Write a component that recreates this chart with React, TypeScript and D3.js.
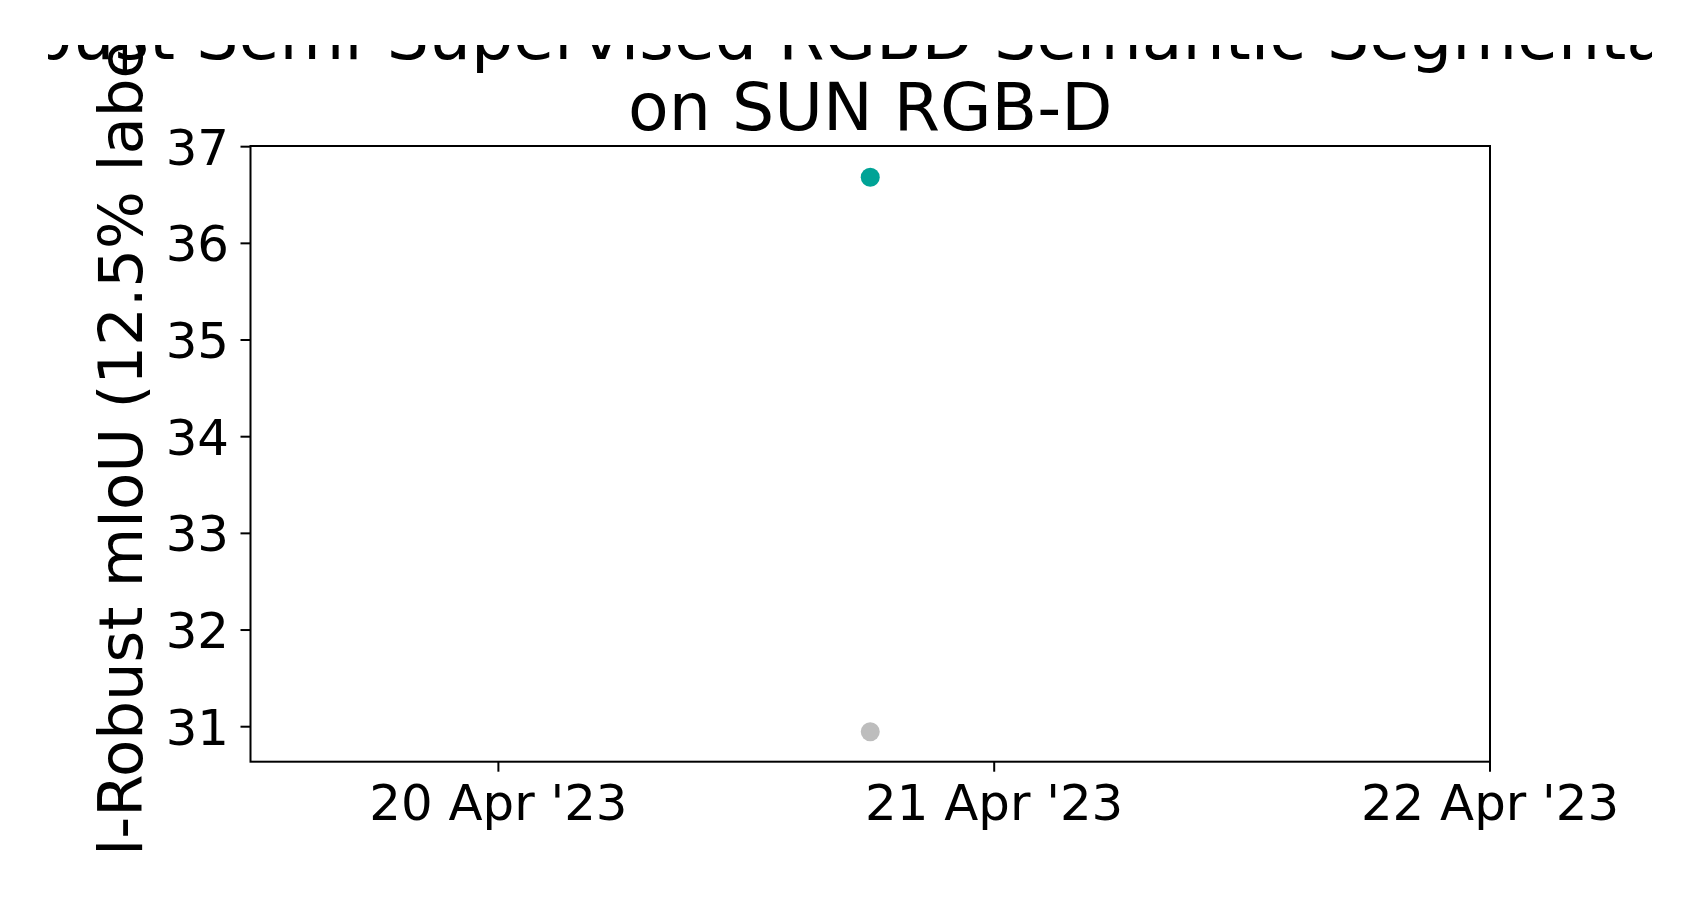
import React from "react";
import * as d3 from "d3";

// ---- data ----
const titleLines = ["Robust Semi-Supervised RGBD Semantic Segmentation", "on SUN RGB-D"];
const yLabel = "l-Robust mIoU (12.5% labels)";
const pointDates = ["2023-04-20T18:00:00Z", "2023-04-20T18:00:00Z"];
const pointValues = [36.683, 30.948];
const pointColors = ["#00a396", "#bdbdbd"];
const xDomainDates = ["2023-04-19T12:00:00Z", "2023-04-22T00:00:00Z"];
const xTickDates = ["2023-04-20T00:00:00Z", "2023-04-21T00:00:00Z", "2023-04-22T00:00:00Z"];
const yDomainValues = [30.638, 37.007];
const yTickValues = [31, 32, 33, 34, 35, 36, 37];

const W = 1700;
const H = 900;
const left = 250.5;
const right = 1490;
const top = 146;
const bottom = 761.7;
const FONT = "'DejaVu Sans', sans-serif";

export default function App() {
  const x = d3
    .scaleUtc()
    .domain(xDomainDates.map((d) => new Date(d)))
    .range([left, right]);
  const y = d3.scaleLinear().domain(yDomainValues).range([bottom, top]);
  const fmt = d3.utcFormat("%d %b '%y");
  const cx = (left + right) / 2;

  return (
    <div style={{ position: "absolute", left: 0, top: 0, width: W, height: H, background: "#fff" }}>
      <svg width={W} height={H} viewBox={`0 0 ${W} ${H}`} style={{ display: "block" }}>
        <defs>
          <clipPath id="figclip">
            <rect x={48} y={45} width={1604} height={810} />
          </clipPath>
        </defs>
        <rect x={0} y={0} width={W} height={H} fill="#fff" />
        <g clipPath="url(#figclip)" fontFamily={FONT}>
          {pointValues.map((v, i) => (
            <circle key={i} cx={x(new Date(pointDates[i]))} cy={y(v)} r={9.5} fill={pointColors[i]} />
          ))}
          <rect x={left} y={top} width={right - left} height={bottom - top} fill="none" stroke="#000" strokeWidth={2} />
          {xTickDates.map((d) => {
            const px = x(new Date(d));
            return (
              <g key={d}>
                <line x1={px} x2={px} y1={bottom} y2={bottom + 10} stroke="#000" strokeWidth={2} />
                <text x={px} y={820} textAnchor="middle" fontSize={49.8} fill="#000">
                  {fmt(new Date(d))}
                </text>
              </g>
            );
          })}
          {yTickValues.map((v) => {
            const py = y(v);
            return (
              <g key={v}>
                <line x1={left - 10} x2={left} y1={py} y2={py} stroke="#000" strokeWidth={2} />
                <text x={229} y={py + 18} textAnchor="end" fontSize={49.8} fill="#000">
                  {v}
                </text>
              </g>
            );
          })}
          <text transform={`translate(142, 855.7) rotate(-90)`} textAnchor="start" fontSize={61} fill="#000">
            {yLabel}
          </text>
          <text x={cx} y={59} textAnchor="middle" fontSize={66.5} fill="#000">
            {titleLines[0]}
          </text>
          <text x={cx} y={130} textAnchor="middle" fontSize={66.5} fill="#000">
            {titleLines[1]}
          </text>
        </g>
      </svg>
    </div>
  );
}
